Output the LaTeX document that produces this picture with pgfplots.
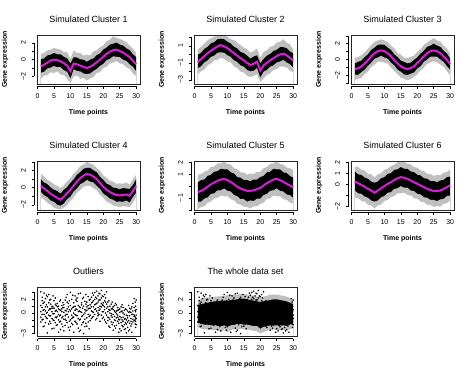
\documentclass[border=0pt]{standalone}
\usepackage{fontspec}
\setmainfont{Liberation Sans}
\usepackage{pgfplots}
\pgfplotsset{compat=1.18}
\usepackage{pgfplotstable}
\definecolor{mag}{RGB}{215,30,215}

\pgfplotstableread{
x m a b c d
1 -0.8 -1.55 0.05 -2.3 0.7
2 -0.6 -1.45 0.15 -1.9 0.8
3 -0.35 -1.05 0.5 -1.85 1.1
4 -0.1 -0.95 0.6 -1.5 1.2
5 0.0 -0.75 0.8 -1.6 1.4
6 -0.05 -0.9 0.65 -1.4 1.3
7 -0.2 -0.9 0.65 -1.8 1.2
8 -0.4 -1.25 0.35 -1.85 0.9
9 -0.7 -1.45 0.15 -2.3 0.9
10 -1.35 -2.25 -0.45 -2.8 0.1
11 -0.45 -1.15 0.3 -2.0 1.1
12 -0.55 -1.35 0.25 -1.9 0.8
13 -0.7 -1.4 0.05 -2.25 0.8
14 -0.85 -1.65 0.0 -2.2 0.5
15 -1.0 -1.7 -0.25 -2.5 0.6
16 -0.85 -1.65 0.0 -2.25 0.5
17 -0.6 -1.35 0.15 -2.1 1.0
18 -0.3 -1.1 0.55 -1.6 1.1
19 0.0 -0.75 0.75 -1.5 1.5
20 0.35 -0.5 1.2 -1.0 1.7
21 0.7 -0.05 1.45 -0.85 2.2
22 0.95 0.1 1.8 -0.45 2.4
23 1.15 0.4 1.9 -0.35 2.8
24 1.2 0.35 2.05 -0.2 2.6
25 1.05 0.3 1.8 -0.45 2.5
26 0.85 0.0 1.7 -0.55 2.3
27 0.6 -0.15 1.35 -0.95 2.1
28 0.3 -0.55 1.15 -1.1 1.7
29 -0.1 -0.85 0.65 -1.7 1.3
30 -0.55 -1.4 0.3 -1.95 0.8
}\PA

\pgfplotstableread{
x m a b c d
1 -0.9 -1.65 -0.05 -2.4 0.6
2 -0.55 -1.4 0.2 -2.0 0.9
3 -0.2 -0.95 0.65 -1.8 1.3
4 0.15 -0.7 0.9 -1.3 1.7
5 0.45 -0.3 1.3 -1.1 1.9
6 0.7 -0.15 1.45 -0.7 2.1
7 0.95 0.2 1.8 -0.65 2.3
8 1.1 0.25 1.85 -0.4 2.2
9 0.95 0.2 1.8 -0.55 2.25
10 0.75 -0.1 1.5 -0.85 2.1
11 0.45 -0.3 1.3 -0.95 1.8
12 0.15 -0.7 0.9 -1.45 1.7
13 -0.15 -0.9 0.7 -1.65 1.4
14 -0.45 -1.3 0.3 -2.05 1.1
15 -0.7 -1.45 0.15 -2.15 0.8
16 -1.0 -1.85 -0.15 -2.55 0.6
17 -1.25 -2.0 -0.5 -2.7 0.2
18 -1.1 -1.95 -0.25 -2.55 0.4
19 -0.85 -1.6 -0.1 -2.35 0.7
20 -1.9 -2.75 -1.05 -3.3 -0.4
21 -1.3 -2.05 -0.55 -2.85 0.3
22 -1.0 -1.85 -0.15 -2.45 0.5
23 -0.7 -1.45 0.05 -2.25 0.9
24 -0.45 -1.3 0.4 -1.85 1.0
25 -0.2 -0.95 0.55 -1.75 1.4
26 0.0 -0.85 0.85 -1.45 1.5
27 0.1 -0.65 0.85 -1.45 1.8
28 -0.1 -0.95 0.75 -1.55 1.4
29 -0.4 -1.15 0.35 -1.95 1.2
30 -0.7 -1.55 0.15 -2.15 0.6
}\PB

\pgfplotstableread{
x m a b c d
1 -1.2 -1.9 -0.5 -2.6 0.25
2 -1.1 -1.95 -0.3 -2.45 0.3
3 -0.9 -1.6 -0.15 -2.35 0.55
4 -0.5 -1.3 0.3 -1.85 0.9
5 -0.1 -0.8 0.65 -1.55 1.35
6 0.4 -0.4 1.2 -0.95 1.8
7 0.8 0.1 1.5 -0.65 2.25
8 1.05 0.25 1.85 -0.3 2.4
9 1.15 0.45 1.9 -0.3 2.55
10 1.05 0.25 1.85 -0.4 2.4
11 0.8 0.1 1.5 -0.55 2.25
12 0.4 -0.4 1.2 -1.05 1.75
13 -0.05 -0.75 0.65 -1.5 1.4
14 -0.5 -1.3 0.3 -1.85 0.85
15 -0.85 -1.55 -0.15 -2.3 0.6
16 -1.1 -1.9 -0.3 -2.45 0.25
17 -1.2 -1.95 -0.5 -2.65 0.2
18 -1.1 -1.8 -0.4 -2.5 0.35
19 -0.85 -1.65 -0.05 -2.2 0.5
20 -0.45 -1.15 0.25 -1.9 1.0
21 -0.05 -0.85 0.75 -1.4 1.3
22 0.4 -0.3 1.1 -1.05 1.85
23 0.8 0.0 1.6 -0.55 2.15
24 1.05 0.35 1.75 -0.4 2.45
25 1.15 0.35 2.0 -0.2 2.7
26 1.05 0.35 1.75 -0.4 2.4
27 0.8 0.0 1.6 -0.65 2.25
28 0.4 -0.3 1.1 -0.95 1.75
29 -0.05 -0.85 0.75 -1.5 1.4
30 -0.6 -1.3 0.1 -2.05 0.75
}\PC

\pgfplotstableread{
x m a b c d
1 0.2 -0.5 1.0 -1.2 1.6
2 -0.1 -0.9 0.6 -1.4 1.3
3 -0.4 -1.1 0.4 -1.8 0.9
4 -0.7 -1.5 0.0 -2.0 0.7
5 -0.95 -1.65 -0.25 -2.35 0.4
6 -1.2 -2.0 -0.4 -2.5 0.2
7 -1.4 -2.1 -0.7 -2.55 -0.05
8 -1.05 -1.85 -0.25 -2.35 0.25
9 -0.65 -1.35 0.05 -2.05 0.75
10 -0.25 -1.05 0.55 -1.55 1.05
11 0.25 -0.45 0.95 -1.15 1.65
12 0.7 -0.1 1.5 -0.6 2.0
13 1.1 0.4 1.8 -0.3 2.5
14 1.4 0.6 2.2 0.1 2.7
15 1.6 0.9 2.3 0.2 3.0
16 1.5 0.7 2.3 0.2 2.8
17 1.3 0.6 2.0 -0.1 2.7
18 1.0 0.2 1.8 -0.3 2.3
19 0.55 -0.15 1.25 -0.85 1.95
20 0.1 -0.7 0.9 -1.2 1.4
21 -0.25 -0.95 0.45 -1.65 1.15
22 -0.5 -1.3 0.3 -1.8 0.8
23 -0.7 -1.4 0.0 -2.1 0.7
24 -0.85 -1.65 -0.05 -2.15 0.45
25 -0.9 -1.6 -0.2 -2.3 0.5
26 -0.85 -1.65 -0.05 -2.15 0.45
27 -0.8 -1.5 -0.1 -2.2 0.6
28 -0.95 -1.75 -0.15 -2.25 0.35
29 -0.4 -1.1 0.3 -1.8 1.0
30 0.2 -0.6 1.0 -1.1 1.5
}\PD

\pgfplotstableread{
x m a b c d
1 -0.5 -1.3 0.3 -1.95 0.95
2 -0.4 -1.3 0.5 -1.75 1.0
3 -0.25 -1.05 0.55 -1.7 1.2
4 -0.05 -0.95 0.85 -1.4 1.3
5 0.15 -0.65 0.95 -1.3 1.6
6 0.3 -0.6 1.2 -1.05 1.65
7 0.45 -0.35 1.25 -1.0 1.9
8 0.55 -0.35 1.45 -0.8 1.9
9 0.6 -0.2 1.4 -0.85 2.05
10 0.5 -0.4 1.4 -0.85 1.85
11 0.35 -0.45 1.15 -1.1 1.8
12 0.15 -0.75 1.05 -1.2 1.5
13 -0.05 -0.85 0.75 -1.5 1.4
14 -0.2 -1.1 0.7 -1.55 1.15
15 -0.3 -1.1 0.5 -1.75 1.15
16 -0.4 -1.3 0.5 -1.75 0.95
17 -0.4 -1.2 0.4 -1.9 1.05
18 -0.35 -1.25 0.55 -1.7 1.0
19 -0.25 -1.05 0.55 -1.7 1.2
20 -0.15 -1.05 0.75 -1.5 1.2
21 0.05 -0.75 0.85 -1.4 1.5
22 0.25 -0.65 1.15 -1.1 1.6
23 0.4 -0.4 1.2 -1.05 1.85
24 0.55 -0.35 1.45 -0.8 1.9
25 0.6 -0.2 1.4 -0.85 2.05
26 0.5 -0.4 1.4 -0.85 1.85
27 0.35 -0.45 1.15 -1.1 1.8
28 0.2 -0.7 1.1 -1.15 1.55
29 0.05 -0.75 0.85 -1.4 1.5
30 -0.1 -1.0 0.7 -1.45 1.35
}\PE

\pgfplotstableread{
x m a b c d
1 0.25 -0.55 1.15 -1.2 1.6
2 0.1 -0.8 0.9 -1.25 1.55
3 -0.05 -0.85 0.85 -1.5 1.3
4 -0.2 -1.1 0.6 -1.55 1.25
5 -0.4 -1.2 0.5 -1.85 0.95
6 -0.55 -1.45 0.25 -1.9 0.9
7 -0.75 -1.55 0.15 -2.2 0.6
8 -0.55 -1.45 0.25 -1.9 0.9
9 -0.35 -1.15 0.55 -1.8 1.0
10 -0.15 -1.05 0.65 -1.5 1.3
11 0.05 -0.75 0.95 -1.4 1.4
12 0.2 -0.7 1.0 -1.15 1.65
13 0.4 -0.4 1.3 -1.05 1.75
14 0.55 -0.35 1.35 -0.8 2.0
15 0.65 -0.15 1.55 -0.8 2.0
16 0.6 -0.3 1.4 -0.75 2.05
17 0.5 -0.3 1.4 -0.95 1.85
18 0.35 -0.55 1.15 -1.0 1.8
19 0.2 -0.6 1.1 -1.25 1.55
20 0.05 -0.85 0.85 -1.3 1.5
21 -0.1 -0.9 0.8 -1.55 1.25
22 -0.25 -1.15 0.55 -1.6 1.2
23 -0.4 -1.2 0.5 -1.85 0.95
24 -0.5 -1.4 0.3 -1.85 0.95
25 -0.6 -1.4 0.3 -2.05 0.75
26 -0.6 -1.5 0.2 -1.95 0.85
27 -0.55 -1.35 0.35 -2.0 0.8
28 -0.4 -1.3 0.4 -1.75 1.05
29 -0.25 -1.05 0.65 -1.7 1.1
30 -0.1 -1.0 0.7 -1.45 1.35
}\PF

\pgfplotstableread{
x a b c d
1 -1.4 1.2 -2.0 1.8
2 -1.6 1.3 -2.3 2.1
3 -1.7 1.4 -2.4 2.2
4 -1.7 1.5 -2.4 2.3
5 -1.8 1.6 -2.5 2.3
6 -1.7 1.7 -2.5 2.4
7 -1.9 1.7 -2.6 2.4
8 -1.9 1.8 -2.7 2.5
9 -1.8 1.8 -2.5 2.5
10 -2.0 1.8 -2.8 2.6
11 -1.8 1.9 -2.5 2.6
12 -1.7 1.9 -2.4 2.7
13 -1.6 2.0 -2.4 2.7
14 -1.6 2.1 -2.3 2.8
15 -1.7 2.1 -2.4 2.8
16 -1.7 2.0 -2.4 2.7
17 -1.8 1.9 -2.5 2.6
18 -1.9 1.8 -2.6 2.5
19 -1.9 1.7 -2.7 2.4
20 -2.3 1.6 -3.0 2.3
21 -2.0 1.7 -2.8 2.4
22 -1.9 1.8 -2.6 2.5
23 -1.8 1.9 -2.5 2.7
24 -1.8 2.0 -2.5 2.7
25 -1.8 2.0 -2.5 2.7
26 -1.8 1.9 -2.5 2.6
27 -1.8 1.8 -2.5 2.5
28 -1.9 1.7 -2.6 2.4
29 -1.7 1.5 -2.4 2.2
30 -1.5 1.3 -2.2 2.0
}\PH

\pgfplotstableread[row sep=\\]{
x y\\
1 0.2\\ 1 1.1\\ 1 -0.6\\ 1 3.1\\ 1 -1.3\\
2 2.9\\ 2 0.5\\ 2 -0.2\\ 2 1.6\\ 2 -1.9\\
3 2.4\\ 3 -0.8\\ 3 0.9\\ 3 -2.9\\ 3 0.1\\
4 1.3\\ 4 -0.4\\ 4 -1.5\\ 4 2.0\\ 4 0.6\\
5 0.7\\ 5 -1.1\\ 5 1.8\\ 5 -0.1\\ 5 -2.2\\
6 -0.5\\ 6 0.9\\ 6 -1.7\\ 6 0.2\\ 6 1.4\\
7 -1.2\\ 7 0.4\\ 7 -0.3\\ 7 1.9\\ 7 -2.4\\
8 0.1\\ 8 -0.9\\ 8 1.2\\ 8 -2.6\\ 8 0.8\\
9 1.6\\ 9 -0.2\\ 9 0.6\\ 9 -1.4\\ 9 2.7\\
10 3.0\\ 10 0.3\\ 10 -1.0\\ 10 1.1\\ 10 -2.0\\
11 -0.6\\ 11 1.5\\ 11 0.0\\ 11 -2.8\\ 11 0.9\\
12 2.2\\ 12 -1.6\\ 12 0.5\\ 12 -0.4\\ 12 1.7\\
13 -2.5\\ 13 0.8\\ 13 2.9\\ 13 -0.9\\ 13 0.2\\
14 -1.3\\ 14 1.0\\ 14 -0.2\\ 14 2.3\\ 14 -3.0\\
15 0.4\\ 15 -0.7\\ 15 1.6\\ 15 -1.9\\ 15 0.9\\
16 1.2\\ 16 -0.3\\ 16 0.7\\ 16 2.0\\ 16 -1.1\\
17 0.9\\ 17 1.8\\ 17 -0.5\\ 17 2.6\\ 17 0.1\\
18 1.4\\ 18 3.2\\ 18 0.3\\ 18 -0.8\\ 18 2.1\\
19 0.6\\ 19 1.9\\ 19 -1.2\\ 19 2.8\\ 19 1.0\\
20 1.1\\ 20 0.2\\ 20 2.4\\ 20 -0.6\\ 20 1.5\\
21 3.1\\ 21 0.7\\ 21 -0.3\\ 21 1.3\\ 21 -1.5\\
22 0.4\\ 22 -0.9\\ 22 1.0\\ 22 -2.1\\ 22 0.0\\
23 -0.2\\ 23 0.9\\ 23 -1.4\\ 23 0.5\\ 23 -2.5\\
24 -0.7\\ 24 0.3\\ 24 -1.8\\ 24 1.2\\ 24 -0.1\\
25 -1.0\\ 25 0.6\\ 25 -2.3\\ 25 0.1\\ 25 -0.5\\
26 0.0\\ 26 -1.2\\ 26 0.8\\ 26 -2.0\\ 26 -0.6\\
27 -1.6\\ 27 -0.3\\ 27 -2.9\\ 27 0.5\\ 27 -1.0\\
28 -0.4\\ 28 0.7\\ 28 -1.5\\ 28 -2.4\\ 28 0.2\\
29 0.3\\ 29 -0.9\\ 29 1.4\\ 29 -1.3\\ 29 -0.2\\
30 -0.8\\ 30 0.5\\ 30 -1.7\\ 30 1.9\\ 30 -0.3\\
1.4 -0.2\\ 1.4 1.8\\ 1.4 -1.0\\ 1.4 0.8\\ 1.4 2.3\\
2.4 0.9\\ 2.4 -1.4\\ 2.4 2.1\\ 2.4 -0.5\\ 2.4 0.3\\
3.4 -1.6\\ 3.4 1.5\\ 3.4 0.4\\ 3.4 -0.3\\ 3.4 2.7\\
4.4 0.2\\ 4.4 -2.3\\ 4.4 1.0\\ 4.4 -0.8\\ 4.4 0.7\\
5.4 1.3\\ 5.4 -0.6\\ 5.4 0.3\\ 5.4 2.2\\ 5.4 -1.4\\
6.4 0.6\\ 6.4 -1.0\\ 6.4 -2.8\\ 6.4 1.0\\ 6.4 -0.2\\
7.4 1.1\\ 7.4 -0.7\\ 7.4 0.2\\ 7.4 -1.6\\ 7.4 0.6\\
8.4 -0.4\\ 8.4 1.9\\ 8.4 -1.8\\ 8.4 0.4\\ 8.4 -0.9\\
9.4 0.9\\ 9.4 -0.6\\ 9.4 -2.1\\ 9.4 1.4\\ 9.4 0.2\\
10.4 -0.3\\ 10.4 2.0\\ 10.4 -1.5\\ 10.4 0.6\\ 10.4 -0.8\\
11.4 1.0\\ 11.4 -1.2\\ 11.4 2.5\\ 11.4 -0.2\\ 11.4 0.4\\
12.4 -0.8\\ 12.4 0.2\\ 12.4 -2.2\\ 12.4 1.1\\ 12.4 2.8\\
13.4 1.5\\ 13.4 -1.7\\ 13.4 0.1\\ 13.4 -0.5\\ 13.4 1.2\\
14.4 0.5\\ 14.4 -0.9\\ 14.4 1.7\\ 14.4 -2.0\\ 14.4 0.0\\
15.4 2.4\\ 15.4 -0.2\\ 15.4 1.1\\ 15.4 -1.3\\ 15.4 0.6\\
16.4 0.3\\ 16.4 1.5\\ 16.4 -0.8\\ 16.4 2.3\\ 16.4 0.9\\
17.4 1.2\\ 17.4 -0.2\\ 17.4 2.0\\ 17.4 0.5\\ 17.4 3.0\\
18.4 0.8\\ 18.4 2.5\\ 18.4 -0.4\\ 18.4 1.6\\ 18.4 0.0\\
19.4 1.4\\ 19.4 -0.3\\ 19.4 0.9\\ 19.4 2.2\\ 19.4 3.3\\
20.4 0.5\\ 20.4 1.8\\ 20.4 -1.0\\ 20.4 0.9\\ 20.4 2.7\\
21.4 0.2\\ 21.4 1.6\\ 21.4 -0.6\\ 21.4 0.9\\ 21.4 -1.1\\
22.4 1.3\\ 22.4 -0.4\\ 22.4 0.6\\ 22.4 -1.3\\ 22.4 -0.1\\
23.4 0.3\\ 23.4 -1.0\\ 23.4 1.1\\ 23.4 -0.5\\ 23.4 -1.9\\
24.4 -0.3\\ 24.4 0.8\\ 24.4 -1.2\\ 24.4 -0.6\\ 24.4 0.4\\
25.4 -1.4\\ 25.4 0.2\\ 25.4 -0.7\\ 25.4 0.9\\ 25.4 -2.6\\
26.4 -0.2\\ 26.4 -1.7\\ 26.4 0.4\\ 26.4 -0.9\\ 26.4 -2.4\\
27.4 -0.7\\ 27.4 0.3\\ 27.4 -1.3\\ 27.4 -2.1\\ 27.4 -0.4\\
28.4 0.6\\ 28.4 -0.8\\ 28.4 -1.9\\ 28.4 0.1\\ 28.4 -1.2\\
29.4 -0.5\\ 29.4 0.8\\ 29.4 -1.1\\ 29.4 2.1\\ 29.4 -0.3\\
29.8 0.2\\ 29.8 -1.2\\ 29.8 1.0\\ 29.8 -0.6\\ 29.8 -2.1\\
1.7 1.4\\ 1.7 -0.9\\ 1.7 0.4\\ 1.7 -2.0\\
2.7 -0.7\\ 2.7 1.2\\ 2.7 2.6\\ 2.7 0.0\\
3.7 0.6\\ 3.7 -1.2\\ 3.7 1.9\\ 3.7 -0.4\\
4.7 -1.0\\ 4.7 0.9\\ 4.7 2.5\\ 4.7 -0.1\\
5.7 0.4\\ 5.7 -1.8\\ 5.7 1.1\\ 5.7 -0.7\\
6.7 1.7\\ 6.7 -0.4\\ 6.7 0.5\\ 6.7 -1.3\\
7.7 -0.5\\ 7.7 0.8\\ 7.7 -2.0\\ 7.7 1.5\\
8.7 0.3\\ 8.7 2.3\\ 8.7 -1.1\\ 8.7 -0.2\\
9.7 -1.2\\ 9.7 0.5\\ 9.7 1.8\\ 9.7 -2.5\\
10.7 0.8\\ 10.7 -0.6\\ 10.7 2.6\\ 10.7 -1.7\\
11.7 -1.4\\ 11.7 0.6\\ 11.7 1.9\\ 11.7 -0.3\\
12.7 0.9\\ 12.7 -1.0\\ 12.7 -2.7\\ 12.7 0.3\\
13.7 -0.4\\ 13.7 2.1\\ 13.7 0.7\\ 13.7 -1.4\\
14.7 1.3\\ 14.7 -1.5\\ 14.7 0.3\\ 14.7 2.7\\
15.7 -0.5\\ 15.7 0.7\\ 15.7 1.9\\ 15.7 -2.3\\
16.7 1.6\\ 16.7 0.2\\ 16.7 -0.6\\ 16.7 2.9\\
17.7 0.6\\ 17.7 2.3\\ 17.7 1.3\\ 17.7 -1.0\\
18.7 1.9\\ 18.7 0.4\\ 18.7 -0.2\\ 18.7 2.9\\
19.7 0.2\\ 19.7 1.2\\ 19.7 2.5\\ 19.7 -0.8\\
20.7 1.6\\ 20.7 0.0\\ 20.7 -1.3\\ 20.7 2.2\\
21.7 0.5\\ 21.7 -0.7\\ 21.7 1.8\\ 21.7 -1.9\\
22.7 -0.6\\ 22.7 0.7\\ 22.7 -1.7\\ 22.7 1.6\\
23.7 0.1\\ 23.7 -1.1\\ 23.7 -2.2\\ 23.7 1.4\\
24.7 -0.9\\ 24.7 0.5\\ 24.7 -1.5\\ 24.7 -2.8\\
25.7 0.3\\ 25.7 -1.0\\ 25.7 1.2\\ 25.7 -1.8\\
26.7 -0.8\\ 26.7 -2.3\\ 26.7 0.6\\ 26.7 -1.4\\
27.7 -1.1\\ 27.7 0.1\\ 27.7 -2.6\\ 27.7 1.1\\
28.7 -0.2\\ 28.7 -1.6\\ 28.7 0.9\\ 28.7 -2.8\\
29.7 0.4\\ 29.7 -0.9\\ 29.7 1.6\\ 29.7 -1.6\\
}\PO

\pgfplotsset{
  rpanel/.style={
    scale only axis, width=103bp, height=49bp,
    axis on top,
    xmin=-0.16, xmax=31.16,
    xtick={0,5,...,30},
    tick pos=left, tick align=outside,
    major tick length=3bp,
    xtick style={yshift=-2.5bp, line width=0.5bp, black},
    ytick style={xshift=-2.5bp, line width=0.5bp, black},
    axis line style={line width=0.5bp, black!85},
    tick label style={font=\fontsize{7}{8}\selectfont},
    /pgf/number format/assume math mode=true,
    xticklabel style={anchor=center, yshift=-9bp},
    yticklabel style={anchor=center, rotate=90, yshift=10.5bp},
    title style={font=\fontsize{9}{10}\selectfont, at={(axis description cs:0.5,1.2)}, anchor=center},
    xlabel={Time points}, ylabel={Gene expression},
    label style={font=\bfseries\fontsize{7}{8}\selectfont},
    xlabel style={at={(axis description cs:0.5,-0.59)}, anchor=center},
    ylabel style={at={(axis description cs:-0.31,0.5)}, anchor=center},
  },
  raxes/.style n args={3}{
    after end axis/.code={
      \draw[line width=0.5bp, yshift=-2.5bp] (axis cs:0,#1) -- (axis cs:30,#1);
      \draw[line width=0.5bp, xshift=-2.5bp] (axis cs:-0.16,#2) -- (axis cs:-0.16,#3);
    }
  }
}

% layered bands: each fill goes down to the panel floor (#2)
\newcommand\cluster[2]{%
  \addplot[fill=black!25, draw=none, forget plot] table[x=x,y=d]{#1} -- (axis cs:30,#2) -- (axis cs:1,#2) -- cycle;
  \addplot[fill=black, draw=none, forget plot] table[x=x,y=b]{#1} -- (axis cs:30,#2) -- (axis cs:1,#2) -- cycle;
  \addplot[fill=black!25, draw=none, forget plot] table[x=x,y=a]{#1} -- (axis cs:30,#2) -- (axis cs:1,#2) -- cycle;
  \addplot[fill=white, draw=none, forget plot] table[x=x,y=c]{#1} -- (axis cs:30,#2) -- (axis cs:1,#2) -- cycle;
}

\begin{document}
\begin{tikzpicture}
\useasboundingbox (0,0) rectangle (474bp,381bp);

% Row 1
\begin{axis}[rpanel, at={(37bp,297bp)}, anchor=south west,
  title={Simulated Cluster 1}, ymin=-2.9, ymax=2.95,
  ytick={-2,-1,0,1,2}, yticklabels={−2,,0,,2}, raxes={-2.9}{-2}{2}]
  \cluster{\PA}{-2.9}
  \addplot[mag, line width=2bp] table[x=x,y=m]{\PA};
\end{axis}

\begin{axis}[rpanel, at={(194bp,297bp)}, anchor=south west,
  title={Simulated Cluster 2}, ymin=-3.5, ymax=2.3,
  ytick={-3,-2,-1,0,1,2}, yticklabels={−3,,−1,,1,}, raxes={-3.5}{-3}{2}]
  \cluster{\PB}{-3.5}
  \addplot[mag, line width=2bp] table[x=x,y=m]{\PB};
\end{axis}

\begin{axis}[rpanel, at={(351bp,297bp)}, anchor=south west,
  title={Simulated Cluster 3}, ymin=-3.1, ymax=3.1,
  ytick={-3,-2,-1,0,1,2,3}, yticklabels={,−2,,0,,2,}, raxes={-3.1}{-3}{3}]
  \cluster{\PC}{-3.1}
  \addplot[mag, line width=2bp] table[x=x,y=m]{\PC};
\end{axis}

% Row 2
\begin{axis}[rpanel, at={(37bp,171bp)}, anchor=south west,
  title={Simulated Cluster 4}, ymin=-2.6, ymax=3.1,
  ytick={-2,-1,0,1,2,3}, yticklabels={−2,,0,,2,}, raxes={-2.6}{-2}{3}]
  \cluster{\PD}{-2.6}
  \addplot[mag, line width=2bp] table[x=x,y=m]{\PD};
\end{axis}

\begin{axis}[rpanel, at={(194bp,171bp)}, anchor=south west,
  title={Simulated Cluster 5}, ymin=-2.0, ymax=2.1,
  ytick={-2,-1,0,1,2}, yticklabels={,−1,,1,2}, raxes={-2.0}{-2}{2}]
  \cluster{\PE}{-2.0}
  \addplot[mag, line width=2bp] table[x=x,y=m]{\PE};
\end{axis}

\begin{axis}[rpanel, at={(351bp,171bp)}, anchor=south west,
  title={Simulated Cluster 6}, ymin=-2.3, ymax=2.1,
  ytick={-2,-1,0,1,2}, yticklabels={−2,,0,1,2}, raxes={-2.3}{-2}{2}]
  \cluster{\PF}{-2.3}
  \addplot[mag, line width=2bp] table[x=x,y=m]{\PF};
\end{axis}

% Row 3
\begin{axis}[rpanel, at={(37bp,45bp)}, anchor=south west,
  title={Outliers}, ymin=-3.35, ymax=3.8,
  ytick={-3,-2,-1,0,1,2,3}, yticklabels={−3,,,0,,2,}, raxes={-3.35}{-3}{3}]
  \addplot[only marks, mark=*, mark size=0.55bp, black] table[x=x,y=y]{\PO};
\end{axis}

\begin{axis}[rpanel, at={(194bp,45bp)}, anchor=south west,
  title={The whole data set}, ymin=-3.35, ymax=3.8,
  ytick={-3,-2,-1,0,1,2,3}, yticklabels={−3,,,0,,2,}, raxes={-3.35}{-3}{3}]
  \cluster{\PH}{-3.35}
  \addplot[only marks, mark=*, mark size=0.55bp, black] table[x=x,y=y]{\PO};
\end{axis}
\end{tikzpicture}
\end{document}
